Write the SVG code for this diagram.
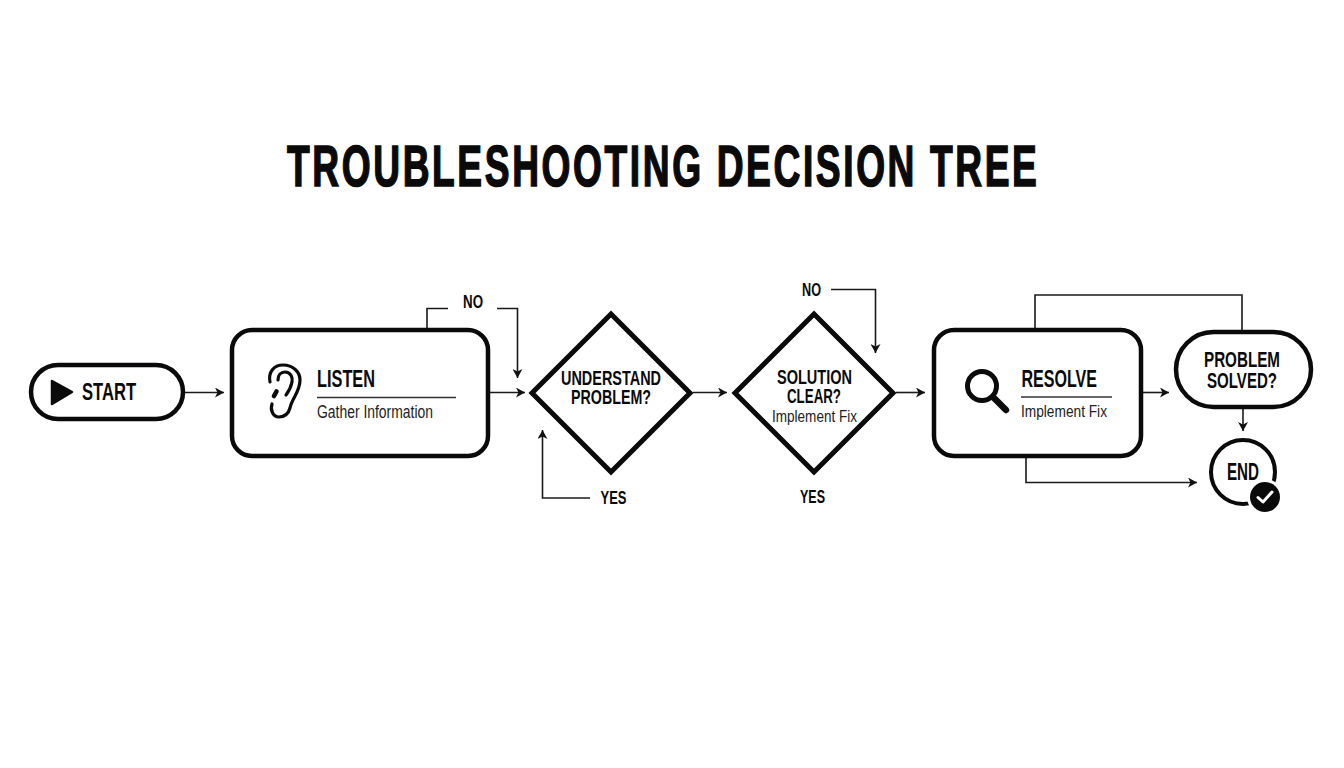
<svg xmlns="http://www.w3.org/2000/svg" width="1344" height="768" viewBox="0 0 1344 768">
<style>
text{font-family:"Liberation Sans",Arial,sans-serif;font-weight:700;fill:#0a0a0a}
.n{fill:#fff;stroke:#0a0a0a;stroke-width:4.5;stroke-linejoin:miter}
.d{stroke-width:5}
.c{fill:none;stroke:#1a1a1a;stroke-width:1.6}
.r{stroke:#333;stroke-width:1.4}
.s{font-weight:400;fill:#222}
</style>
<defs><marker id="a" markerUnits="userSpaceOnUse" viewBox="0 0 10 10" refX="9" refY="5" markerWidth="10" markerHeight="10" orient="auto"><path d="M0 0L9 5L0 10L2.500 5Z" fill="#111"/></marker></defs>
<rect width="1344" height="768" fill="#fff"/>
<text id="title" transform="translate(287 186.200) scale(.64 1)" font-size="58" letter-spacing="4.100" stroke="#0a0a0a" stroke-width="1.600">TROUBLESHOOTING DECISION TREE</text>
<g id="connectors" class="c">
<path class="c" marker-end="url(#a)" d="M185 392.500H224"/>
<path class="c" marker-end="url(#a)" d="M490 392.500H525"/>
<path class="c" d="M427 328V308.500H448"/>
<path class="c" marker-end="url(#a)" d="M497 308.500H517.500V378"/>
<path class="c" marker-end="url(#a)" d="M693 392.500H727"/>
<path class="c" marker-end="url(#a)" d="M590 498H542.500V430"/>
<path class="c" marker-end="url(#a)" d="M831 289.500H875.500V353"/>
<path class="c" marker-end="url(#a)" d="M896 392.500H925"/>
<path class="c" d="M1035 328V295H1242V330"/>
<path class="c" marker-end="url(#a)" d="M1143 392.500H1169"/>
<path class="c" marker-end="url(#a)" d="M1243 409V431"/>
<path class="c" marker-end="url(#a)" d="M1026 458V482.500H1197"/>
</g>
<g id="start">
<rect class="n" x="31" y="365" width="152" height="54" rx="27"/>
<path d="M52 381L72 392L52 404Z" fill="#0a0a0a" stroke="#0a0a0a" stroke-width="2.500" stroke-linejoin="round"/>
<text x="82" y="400" font-size="23" textLength="54" lengthAdjust="spacingAndGlyphs">START</text>
</g>
<g id="listen">
<rect class="n" x="232" y="330" width="256" height="126" rx="20"/>
<g fill="none" stroke="#0a0a0a" stroke-width="3.200" stroke-linecap="round">
<path d="M270 382C268 372 274 365 283 365C293 365 300 372 300 380C300 392 292 398 290 408C288 415 283 417 279 417C273 417 270 410 272 404"/>
<path d="M278 380C278 375 281 372 285 372C291 372 293 378 292 382C291 387 289 391 286 395"/>
<path d="M276.500 391.500L274 396" stroke-width="4.600"/>
</g>
<text x="317" y="386.500" font-size="23" textLength="58" lengthAdjust="spacingAndGlyphs">LISTEN</text>
<line class="r" x1="317" y1="397.500" x2="456" y2="397.500"/>
<text class="s" x="317" y="417.500" font-size="17.500" textLength="116" lengthAdjust="spacingAndGlyphs">Gather Information</text>
</g>
<g id="no1"><text x="463" y="308" font-size="19" textLength="20" lengthAdjust="spacingAndGlyphs">NO</text></g>
<g id="understand">
<path class="n d" d="M611 314L690 393L611 472L532 393Z"/>
<text font-size="21"><tspan x="561" y="385" textLength="100" lengthAdjust="spacingAndGlyphs">UNDERSTAND</tspan><tspan x="571" y="404" textLength="80" lengthAdjust="spacingAndGlyphs">PROBLEM?</tspan></text>
</g>
<g id="yes1"><text x="600.500" y="504" font-size="19" textLength="26" lengthAdjust="spacingAndGlyphs">YES</text></g>
<g id="no2"><text x="802" y="296" font-size="18" textLength="19" lengthAdjust="spacingAndGlyphs">NO</text></g>
<g id="solution">
<path class="n d" d="M814 314L893 393L814 472L735 393Z"/>
<text font-size="21"><tspan x="777" y="384" textLength="75" lengthAdjust="spacingAndGlyphs">SOLUTION</tspan><tspan x="787" y="403" textLength="54" lengthAdjust="spacingAndGlyphs">CLEAR?</tspan><tspan class="s" x="772" y="421.500" font-size="17" textLength="85" lengthAdjust="spacingAndGlyphs">Implement Fix</tspan></text>
</g>
<g id="yes2"><text x="800" y="503" font-size="18" textLength="25" lengthAdjust="spacingAndGlyphs">YES</text></g>
<g id="resolve">
<rect class="n" x="934" y="330" width="207" height="126" rx="20"/>
<circle cx="982" cy="386" r="14.500" fill="none" stroke="#0a0a0a" stroke-width="5"/>
<path d="M993 397L1006 410" stroke="#0a0a0a" stroke-width="6.500" stroke-linecap="round"/>
<text x="1021.500" y="386.500" font-size="23" textLength="75.500" lengthAdjust="spacingAndGlyphs">RESOLVE</text>
<line class="r" x1="1021" y1="397" x2="1112" y2="397"/>
<text class="s" x="1021" y="416.500" font-size="17" textLength="86" lengthAdjust="spacingAndGlyphs">Implement Fix</text>
</g>
<g id="problem">
<rect class="n" x="1176" y="332" width="135" height="75" rx="37.500"/>
<text font-size="22"><tspan x="1204" y="367" textLength="76" lengthAdjust="spacingAndGlyphs">PROBLEM</tspan><tspan x="1207" y="388" textLength="70" lengthAdjust="spacingAndGlyphs">SOLVED?</tspan></text>
</g>
<g id="end">
<circle cx="1243" cy="472" r="32" fill="#fff" stroke="#0a0a0a" stroke-width="4"/>
<circle cx="1265" cy="497" r="18" fill="#fff"/>
<circle cx="1265" cy="497" r="15" fill="#0a0a0a"/>
<path d="M1258 497.500L1263 502L1272 492" fill="none" stroke="#fff" stroke-width="3" stroke-linecap="round" stroke-linejoin="round"/>
<text x="1227" y="480" font-size="23" textLength="32" lengthAdjust="spacingAndGlyphs">END</text>
</g>
</svg>
